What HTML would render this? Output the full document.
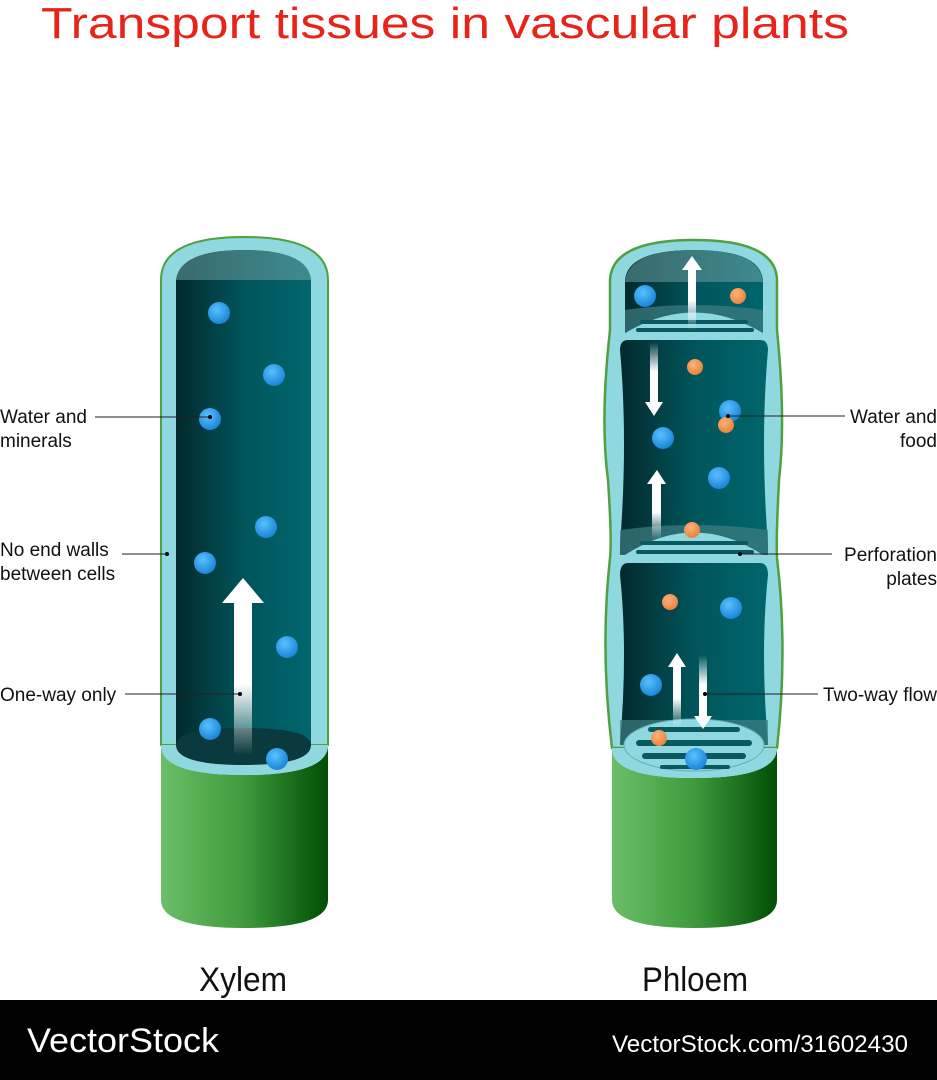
<!DOCTYPE html>
<html><head><meta charset="utf-8"><style>
html,body{margin:0;padding:0;background:#fff;width:937px;height:1080px;overflow:hidden}
svg{display:block}
</style></head><body>
<svg width="937" height="1080" viewBox="0 0 937 1080" xmlns="http://www.w3.org/2000/svg">
<defs>
<linearGradient id="dark" x1="0" x2="1" y1="0" y2="0"><stop offset="0" stop-color="#03292d"/><stop offset="0.5" stop-color="#00555b"/><stop offset="1" stop-color="#00666c"/></linearGradient>
<linearGradient id="green" x1="0" x2="1"><stop offset="0" stop-color="#6cbe68"/><stop offset="0.5" stop-color="#3e9a3c"/><stop offset="1" stop-color="#024e05"/></linearGradient>
<linearGradient id="cap" x1="0" x2="1"><stop offset="0" stop-color="#3a6a6e"/><stop offset="1" stop-color="#3e8a8e"/></linearGradient>
<linearGradient id="arrUp" x1="0" x2="0" y1="0" y2="1"><stop offset="0" stop-color="#fff"/><stop offset="0.6" stop-color="#fff"/><stop offset="1" stop-color="#fff" stop-opacity="0"/></linearGradient>
<linearGradient id="arrDn" x1="0" x2="0" y1="1" y2="0"><stop offset="0" stop-color="#fff"/><stop offset="0.6" stop-color="#fff"/><stop offset="1" stop-color="#fff" stop-opacity="0"/></linearGradient>
<radialGradient id="blue" cx="0.4" cy="0.35" r="0.65"><stop offset="0" stop-color="#5ac0ff"/><stop offset="1" stop-color="#1a86d8"/></radialGradient>
<radialGradient id="orange" cx="0.4" cy="0.35" r="0.65"><stop offset="0" stop-color="#ffb27a"/><stop offset="1" stop-color="#e8843c"/></radialGradient>
</defs>

<text x="445" y="38" text-anchor="middle" font-family="'Comic Sans MS','Liberation Sans',sans-serif" font-size="44" fill="#e8231a" textLength="808" lengthAdjust="spacingAndGlyphs">Transport tissues in vascular plants</text>

<!-- XYLEM -->
<path d="M161,745 L161,280 Q161,237 244,237 Q328,237 328,280 L328,745 Z" fill="#8fd8df" stroke="#4fa040" stroke-width="2"/>
<path d="M176,745 L176,280 Q180,250 244,250 Q308,250 311,280 L311,745 Z" fill="url(#dark)"/>
<path d="M176,280 Q180,250 244,250 Q308,250 311,280 Z" fill="url(#cap)"/>
<!-- green cylinder -->
<path d="M161,745 L161,900 Q161,928 244,928 Q328,928 328,900 L328,745 Q328,775 244,775 Q161,775 161,745 Z" fill="url(#green)"/>
<path d="M161,745 Q161,775 244,775 Q328,775 328,745 L311,745 Q311,765 244,765 Q176,765 176,745 Z" fill="#8fd8df"/>
<path d="M176,745 Q176,765 244,765 Q311,765 311,745 Q311,728 244,728 Q176,728 176,745 Z" fill="#0a3a3e"/>
<!-- arrow -->
<path d="M234,755 L234,603 L222,603 L243,578 L264,603 L252,603 L252,755 Z" fill="url(#arrUp)"/>
<g fill="url(#blue)">
<circle cx="219" cy="313" r="11"/><circle cx="274" cy="375" r="11"/><circle cx="210" cy="419" r="11"/>
<circle cx="266" cy="527" r="11"/><circle cx="205" cy="563" r="11"/><circle cx="287" cy="647" r="11"/>
<circle cx="210" cy="729" r="11"/><circle cx="277" cy="759" r="11"/>
</g>

<!-- PHLOEM -->
<path d="M610,280 Q612,240 694,240 Q776,240 777,280 L777,330 Q786,420 779,480 Q776,540 777,558 Q788,650 777,748 L612,748 Q600,650 610,558 Q612,540 608,480 Q600,420 610,330 Z" fill="#8fd8df" stroke="#4fa040" stroke-width="2.5"/>
<!-- cell1 -->
<path d="M625,335 L625,280 Q628,250 694,250 Q760,250 763,280 L763,335 Z" fill="url(#dark)"/>
<path d="M625,282 Q628,250 694,250 Q760,250 763,282 Z" fill="url(#cap)"/>
<path d="M625,310 Q694,300 763,310 L763,335 L625,335 Z" fill="#3e7d82" opacity="0.7"/>
<path d="M622,335 Q694,290 766,335 Q694,342 622,335 Z" fill="#8fd8df"/>
<rect x="640" y="320" width="108" height="4" rx="2" fill="#085a60"/><rect x="636" y="328" width="118" height="4" rx="2" fill="#085a60"/>
<!-- cell2 -->
<path d="M628,340 L760,340 Q768,340 768,350 Q760,440 768,545 L768,555 L620,555 L620,545 Q628,440 620,350 Q620,340 628,340 Z" fill="url(#dark)"/>
<path d="M620,530 Q694,520 768,530 L768,555 L620,555 Z" fill="#3e7d82" opacity="0.7"/>
<path d="M625,555 Q694,510 763,555 Q694,562 625,555 Z" fill="#8fd8df"/>
<rect x="640" y="541" width="108" height="4" rx="2" fill="#085a60"/><rect x="636" y="550" width="118" height="4" rx="2" fill="#085a60"/>
<!-- cell3 -->
<path d="M628,563 L760,563 Q768,563 768,575 Q760,650 768,745 L620,745 Q628,650 620,575 Q620,563 628,563 Z" fill="url(#dark)"/>
<path d="M620,720 L768,720 L768,745 L620,745 Z" fill="#3e7d82" opacity="0.7"/>
<!-- green cylinder -->
<path d="M612,748 L612,900 Q612,928 694,928 Q777,928 777,900 L777,748 Q777,778 694,778 Q612,778 612,748 Z" fill="url(#green)"/>
<path d="M612,748 Q612,778 694,778 Q777,778 777,748 Z" fill="#8fd8df"/>
<ellipse cx="694" cy="745" rx="70" ry="26" fill="#8fd8df" stroke="#5fb0b8" stroke-width="1"/>
<g fill="#085a60">
<rect x="648" y="727" width="92" height="5" rx="2.5"/><rect x="636" y="740" width="116" height="6" rx="3"/><rect x="642" y="753" width="104" height="6" rx="3"/><rect x="660" y="765" width="70" height="4" rx="2"/>
</g>
<!-- arrows -->
<path d="M688,330 L688,270 L682,270 L692,256 L702,270 L696,270 L696,330 Z" fill="url(#arrUp)"/>
<path d="M650,342 L650,402 L645,402 L654,416 L663,402 L658,402 L658,342 Z" fill="url(#arrDn)"/>
<path d="M652,540 L652,484 L647,484 L657,470 L666,484 L661,484 L661,540 Z" fill="url(#arrUp)"/>
<path d="M673,728 L673,667 L668,667 L677,653 L686,667 L681,667 L681,728 Z" fill="url(#arrUp)"/>
<path d="M699,655 L699,716 L694,716 L703,729 L712,716 L707,716 L707,655 Z" fill="url(#arrDn)"/>
<g fill="url(#blue)">
<circle cx="645" cy="296" r="11"/><circle cx="730" cy="411" r="11"/><circle cx="663" cy="438" r="11"/>
<circle cx="719" cy="478" r="11"/><circle cx="731" cy="608" r="11"/><circle cx="651" cy="685" r="11"/><circle cx="696" cy="759" r="11"/>
</g>
<g fill="url(#orange)">
<circle cx="738" cy="296" r="8"/><circle cx="695" cy="367" r="8"/><circle cx="726" cy="425" r="8"/>
<circle cx="692" cy="530" r="8"/><circle cx="670" cy="602" r="8"/><circle cx="659" cy="738" r="8"/>
</g>

<!-- leader lines -->
<g stroke="#222" stroke-width="1">
<line x1="95" y1="417" x2="210" y2="417"/><line x1="122" y1="554" x2="167" y2="554"/><line x1="125" y1="694" x2="240" y2="694"/>
<line x1="728" y1="416" x2="845" y2="416"/><line x1="740" y1="554" x2="832" y2="554"/><line x1="705" y1="694" x2="818" y2="694"/>
</g>
<g fill="#000"><circle cx="210" cy="417" r="2"/><circle cx="167" cy="554" r="2"/><circle cx="240" cy="694" r="2"/><circle cx="728" cy="416" r="2"/><circle cx="740" cy="554" r="2"/><circle cx="705" cy="694" r="2"/></g>

<g font-family="'Liberation Sans Narrow','Liberation Sans',sans-serif" font-size="19" fill="#111">
<text x="0" y="423">Water and</text><text x="0" y="447">minerals</text>
<text x="0" y="556">No end walls</text><text x="0" y="580">between cells</text>
<text x="0" y="701">One-way only</text>
<text x="937" y="423" text-anchor="end">Water and</text><text x="937" y="447" text-anchor="end">food</text>
<text x="937" y="561" text-anchor="end">Perforation</text><text x="937" y="585" text-anchor="end">plates</text>
<text x="937" y="701" text-anchor="end">Two-way flow</text>
</g>
<g font-family="'Liberation Sans Narrow','Liberation Sans',sans-serif" font-size="34" fill="#111" text-anchor="middle">
<text x="243" y="991" textLength="88" lengthAdjust="spacingAndGlyphs">Xylem</text><text x="695" y="991" textLength="106" lengthAdjust="spacingAndGlyphs">Phloem</text>
</g>

<rect x="0" y="1000" width="937" height="80" fill="#000"/>
<text x="27" y="1052" font-family="'Liberation Sans Narrow','Liberation Sans',sans-serif" font-size="34" fill="#fff" textLength="192" lengthAdjust="spacingAndGlyphs">VectorStock</text>
<text x="612" y="1052" font-family="'Liberation Sans Narrow','Liberation Sans',sans-serif" font-size="24" fill="#fff" textLength="296" lengthAdjust="spacingAndGlyphs">VectorStock.com/31602430</text>
</svg>
</body></html>
